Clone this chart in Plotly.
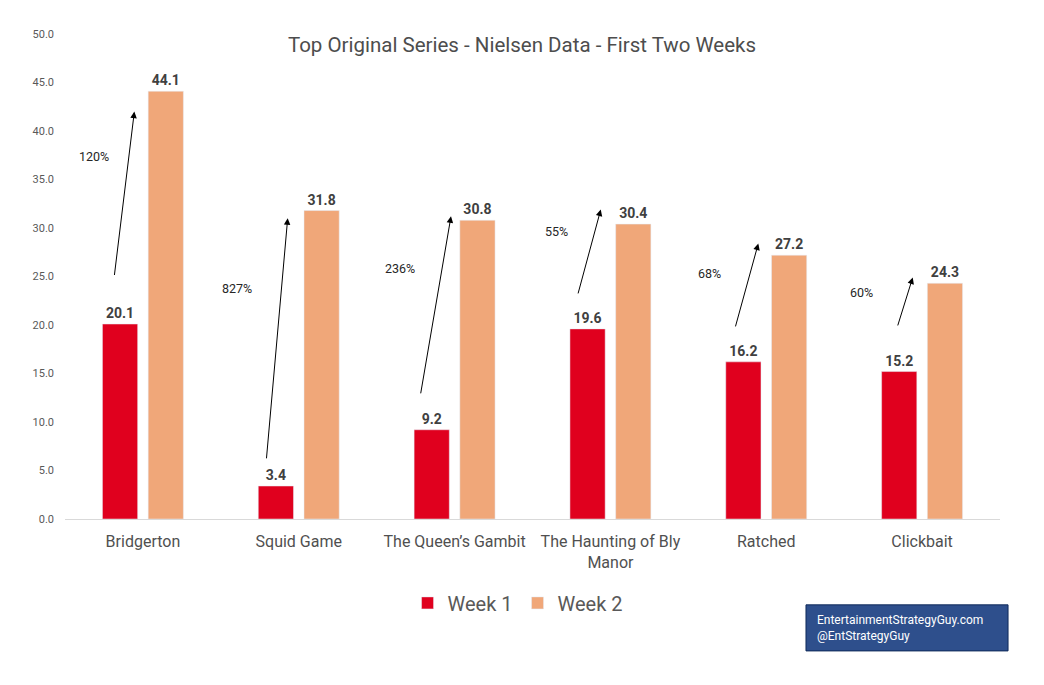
import plotly.graph_objects as go

categories = ["Bridgerton", "Squid Game", "The Queen’s Gambit", "The Haunting of Bly<br>Manor", "Ratched", "Clickbait"]
week1 = [20.1, 3.4, 9.2, 19.6, 16.2, 15.2]
week2 = [44.1, 31.8, 30.8, 30.4, 27.2, 24.3]
pct_labels = ["120%", "827%", "236%", "55%", "68%", "60%"]
# arrow tail/head (x offset from category, y value) and label positions
arrow_tail_dx = [-0.184, -0.208, -0.219, -0.210, -0.200, -0.159]
arrow_tail_y = [25.0, 6.1, 12.8, 23.1, 19.7, 19.8]
arrow_head_dx = [-0.055, -0.071, -0.023, -0.062, -0.051, -0.060]
arrow_head_y = [42.0, 31.0, 31.2, 31.9, 28.4, 24.9]
pct_dx = [-0.311, -0.398, -0.350, -0.345, -0.361, -0.386]
pct_y = [37.35, 23.8, 25.8, 29.6, 25.3, 23.4]

FONT = "Roboto, 'Liberation Sans', sans-serif"
xs = list(range(len(categories)))

fig = go.Figure()
fig.add_trace(go.Bar(name="Week 1", x=xs, y=week1, marker_color="#E0001E",
                     texttemplate="%{y:.1f}", textposition="outside",
                     textfont=dict(size=14, color="#404040", family=FONT, weight="bold"),
                     cliponaxis=False))
fig.add_trace(go.Bar(name="Week 2", x=xs, y=week2, marker_color="#F0A779",
                     texttemplate="%{y:.1f}", textposition="outside",
                     textfont=dict(size=14, color="#404040", family=FONT, weight="bold"),
                     cliponaxis=False))

for i in xs:
    fig.add_annotation(x=i + arrow_head_dx[i], y=arrow_head_y[i],
                       ax=i + arrow_tail_dx[i], ay=arrow_tail_y[i],
                       xref="x", yref="y", axref="x", ayref="y",
                       text="", showarrow=True, arrowhead=2, arrowsize=1.3,
                       arrowwidth=1, arrowcolor="#000000")
    fig.add_annotation(x=i + pct_dx[i], y=pct_y[i], xref="x", yref="y",
                       text=pct_labels[i], showarrow=False,
                       font=dict(size=12.5, color="#262626", family=FONT))

fig.add_shape(type="rect", xref="paper", yref="paper",
              x0=0.7925, x1=1.0086, y0=-0.272, y1=-0.177,
              fillcolor="#2E4F8C", line=dict(color="#0F2A5A", width=1))
fig.add_annotation(xref="paper", yref="paper", x=0.802, y=-0.2245,
                   xanchor="left", yanchor="middle", align="left",
                   text="EntertainmentStrategyGuy.com<br>@EntStrategyGuy",
                   showarrow=False,
                   font=dict(size=12, color="#FFFFFF", family=FONT))

fig.update_layout(
    width=1044, height=685,
    margin=dict(l=65, r=44, t=34, b=166),
    paper_bgcolor="white", plot_bgcolor="white",
    title=dict(text="Top Original Series - Nielsen Data - First Two Weeks",
               x=0.5, xanchor="center", y=0.934, yanchor="middle",
               font=dict(size=20.5, color="#4D4D4D", family=FONT)),
    barmode="group", bargap=0.413, bargroupgap=0.23,
    legend=dict(orientation="h", x=0.484, xanchor="center", y=-0.173, yanchor="middle",
                font=dict(size=20, color="#595959", family=FONT),
                itemwidth=30, traceorder="normal"),
    font=dict(family=FONT),
)
fig.update_xaxes(tickvals=xs, ticktext=categories, range=[-0.5, 5.5],
                 showline=True, linecolor="#D9D9D9", linewidth=1,
                 showgrid=False, zeroline=False, ticks="", ticklabelstandoff=8,
                 tickfont=dict(size=16, color="#505050", family=FONT))
fig.update_yaxes(range=[0, 50], tickvals=[0, 5, 10, 15, 20, 25, 30, 35, 40, 45, 50],
                 tickformat=".1f", showgrid=False, zeroline=False, showline=False,
                 ticks="", ticklabelstandoff=10,
                 tickfont=dict(size=11, color="#595959", family=FONT))

fig.write_html("out.html")
